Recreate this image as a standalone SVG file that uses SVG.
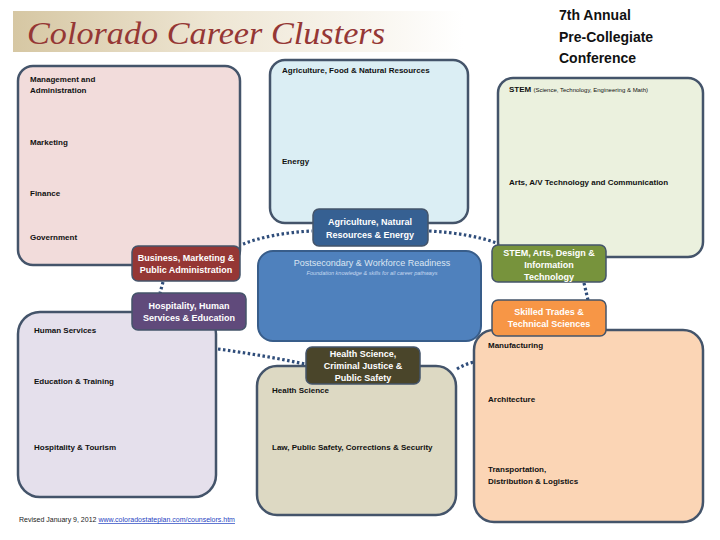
<svg xmlns="http://www.w3.org/2000/svg" width="720" height="540" viewBox="0 0 720 540">
<defs>
<linearGradient id="banner" x1="0" y1="0" x2="1" y2="0">
<stop offset="0" stop-color="#d6c7a3"/>
<stop offset="0.45" stop-color="#eee6d4"/>
<stop offset="1" stop-color="#ffffff"/>
</linearGradient>
<style>
.box{stroke:#44546a;stroke-width:2.5}
.lbl{stroke:#44546a;stroke-width:1.5}
.t{font-family:"Liberation Sans",Arial,sans-serif;font-size:8px;font-weight:bold;fill:#111}
.lt{font-family:"Liberation Sans",Arial,sans-serif;font-size:9px;font-weight:bold;fill:#ffffff;text-anchor:middle}
.dot{fill:none;stroke:#2f4d7a;stroke-width:3.2;stroke-dasharray:2.5 2.5}
</style>
</defs>
<rect width="720" height="540" fill="#ffffff"/>
<g id="header">
<rect x="13" y="11" width="450" height="41" fill="url(#banner)"/>
<text x="27" y="44" font-family="Liberation Serif,Times New Roman,serif" font-style="italic" font-size="31" fill="#953735" textLength="358" lengthAdjust="spacingAndGlyphs">Colorado Career Clusters</text>
<g font-family="Liberation Sans,Arial,sans-serif" font-weight="bold" font-size="14" fill="#111">
<text x="559" y="20">7th Annual</text>
<text x="559" y="42">Pre-Collegiate</text>
<text x="559" y="63">Conference</text>
</g>
</g>
<g id="connectors">
<path class="dot" d="M243,244 Q272,233 312,231"/>
<path class="dot" d="M429,231 Q468,233 497,243"/>
<path class="dot" d="M163,282 L160,293"/>
<path class="dot" d="M584,283 L588,300"/>
<path class="dot" d="M218,349 Q262,355 305,364"/>
<path class="dot" d="M457,369 Q465,364 474,362"/>
</g>
<g id="business-box">
<rect class="box" x="18" y="66" width="222" height="199" rx="15" fill="#f2dcdb"/>
<text class="t" x="30" y="82">Management and</text>
<text class="t" x="30" y="93">Administration</text>
<text class="t" x="30" y="145">Marketing</text>
<text class="t" x="30" y="196">Finance</text>
<text class="t" x="30" y="240">Government</text>
</g>
<g id="agriculture-box">
<rect class="box" x="270" y="60" width="198" height="163" rx="15" fill="#dbeef4"/>
<text class="t" x="282" y="73">Agriculture, Food &amp; Natural Resources</text>
<text class="t" x="282" y="164">Energy</text>
</g>
<g id="stem-box">
<rect class="box" x="498" y="78" width="205" height="179" rx="15" fill="#ebf1de"/>
<text class="t" x="509" y="92">STEM <tspan font-weight="normal" font-size="6">(Science, Technology, Engineering &amp; Math)</tspan></text>
<text class="t" x="509" y="185">Arts, A/V Technology and Communication</text>
</g>
<g id="hospitality-box">
<rect class="box" x="18" y="312" width="198" height="185" rx="22" fill="#e5e0ec"/>
<text class="t" x="34" y="333">Human Services</text>
<text class="t" x="34" y="384">Education &amp; Training</text>
<text class="t" x="34" y="450">Hospitality &amp; Tourism</text>
</g>
<g id="health-box">
<rect class="box" x="257" y="366" width="199" height="149" rx="20" fill="#ddd9c3"/>
<text class="t" x="272" y="393">Health Science</text>
<text class="t" x="272" y="450">Law, Public Safety, Corrections &amp; Security</text>
</g>
<g id="trades-box">
<rect class="box" x="474" y="330" width="229" height="192" rx="20" fill="#fbd5b5"/>
<text class="t" x="488" y="348">Manufacturing</text>
<text class="t" x="488" y="402">Architecture</text>
<text class="t" x="488" y="472">Transportation,</text>
<text class="t" x="488" y="484">Distribution &amp; Logistics</text>
</g>
<g id="center">
<rect x="258" y="251" width="223" height="90" rx="15" fill="#4f81bd" stroke="#385d8a" stroke-width="2"/>
<text x="372" y="266" text-anchor="middle" font-family="Liberation Sans,Arial,sans-serif" font-size="9" fill="#dce6f2">Postsecondary &amp; Workforce Readiness</text>
<text x="372" y="275" text-anchor="middle" font-family="Liberation Sans,Arial,sans-serif" font-size="5.5" font-style="italic" fill="#c6d9f1">Foundation knowledge &amp; skills for all career pathways</text>
</g>
<g id="label-agriculture">
<rect class="lbl" x="313" y="209" width="115" height="37" rx="6" fill="#366092"/>
<text class="lt" x="370" y="225">Agriculture, Natural</text>
<text class="lt" x="370" y="238">Resources &amp; Energy</text>
</g>
<g id="label-business">
<rect class="lbl" x="132" y="246" width="108" height="35" rx="6" fill="#953735"/>
<text class="lt" x="186" y="261">Business, Marketing &amp;</text>
<text class="lt" x="186" y="273">Public Administration</text>
</g>
<g id="label-hospitality">
<rect class="lbl" x="132" y="293" width="114" height="37" rx="6" fill="#604a7b"/>
<text class="lt" x="189" y="309">Hospitality, Human</text>
<text class="lt" x="189" y="321">Services &amp; Education</text>
</g>
<g id="label-stem">
<rect class="lbl" x="492" y="245" width="114" height="37" rx="6" fill="#77933c"/>
<text class="lt" x="549" y="256">STEM, Arts, Design &amp;</text>
<text class="lt" x="549" y="268">Information</text>
<text class="lt" x="549" y="280">Technology</text>
</g>
<g id="label-trades">
<rect class="lbl" x="492" y="300" width="114" height="36" rx="6" fill="#f79646"/>
<text class="lt" x="549" y="315" fill="#fdeada">Skilled Trades &amp;</text>
<text class="lt" x="549" y="327" fill="#fdeada">Technical Sciences</text>
</g>
<g id="label-health">
<rect class="lbl" x="306" y="347" width="114" height="37" rx="6" fill="#4a452a"/>
<text class="lt" x="363" y="357">Health Science,</text>
<text class="lt" x="363" y="369">Criminal Justice &amp;</text>
<text class="lt" x="363" y="381">Public Safety</text>
</g>
<g id="footer" font-family="Liberation Sans,Arial,sans-serif" font-size="7">
<text x="19" y="522" fill="#222">Revised January 9, 2012 <tspan fill="#1f3fbf" text-decoration="underline">www.coloradostateplan.com/counselors.htm</tspan></text>
</g>
</svg>
